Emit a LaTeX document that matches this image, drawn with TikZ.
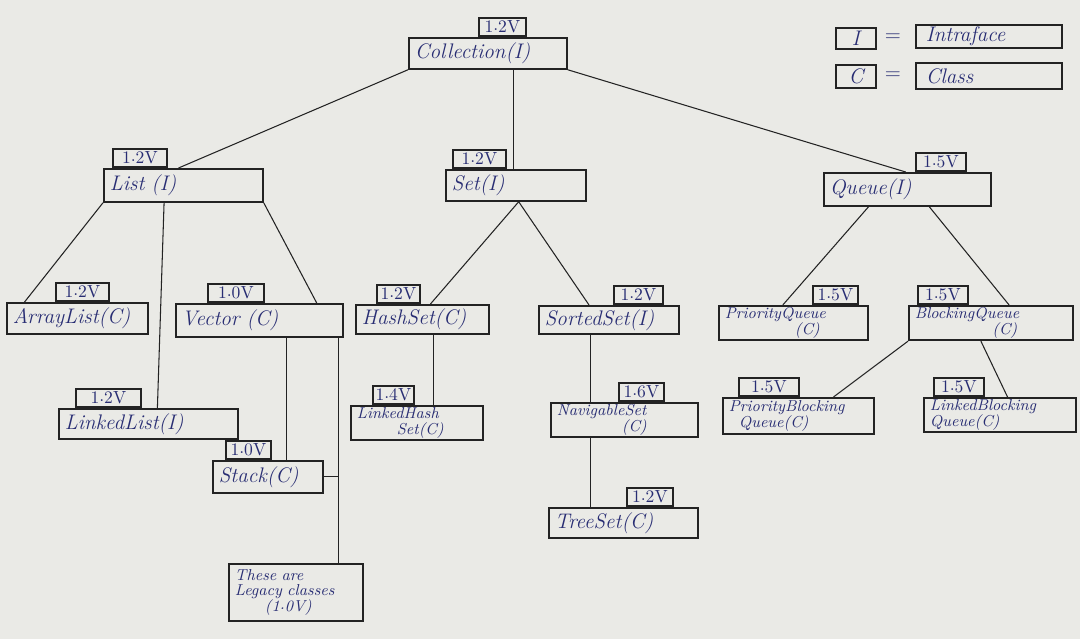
\documentclass[tikz,border=0pt]{standalone}
\usepackage{amssymb,amsmath}
\usepackage{tikz}
\usetikzlibrary{calc}
\definecolor{ink}{RGB}{40,45,115}
\definecolor{pen}{RGB}{35,35,35}
\definecolor{paper}{RGB}{234,234,230}
\newcommand{\ver}[2]{#1\raisebox{0.35ex}{.}#2V}

\begin{document}
\begin{tikzpicture}[x=0.02cm, y=-0.02cm,
	box/.style 2 args={draw=pen, line width=1pt, anchor=north west, inner xsep=0.12cm, inner ysep=1pt,
		text width=#1, minimum height=#2, align=left, text=ink, font=\large\itshape},
	tab/.style={draw=pen, line width=1pt, anchor=south west, inner sep=0pt, minimum height=0.36cm,
		text=ink, font=\normalsize},
	link/.style={draw=pen, line width=0.6pt}]
		\useasboundingbox (0,0) rectangle (1080,639);
		\fill[paper] (0,0) rectangle (1080,639);
		% legend
		\node[box={0.56cm}{0.42cm}, align=center] (keyi) at (835,27) {I};
		\node[text=ink, font=\large] (eqi) at (893,38) {=};
		\node[box={2.52cm}{0.46cm}, inner xsep=0.2cm] (keyitxt) at (915,24) {Intraface};
		\node[box={0.56cm}{0.46cm}, align=center] (keyc) at (835,64) {C};
		\node[text=ink, font=\large] (eqc) at (893,76) {=};
		\node[box={2.52cm}{0.52cm}, inner xsep=0.2cm] (keyctxt) at (915,62) {Class};
		% interfaces
		\node[box={2.92cm}{0.62cm}] (coll) at (408,37) {Collection(I)};
		\node[box={2.94cm}{0.66cm}] (list) at (103,168) {List (I)};
		\node[box={2.56cm}{0.62cm}] (set) at (445,169) {Set(I)};
		\node[box={3.10cm}{0.66cm}] (queue) at (823,172) {Queue(I)};
		% level 2
		\node[box={2.58cm}{0.62cm}] (al) at (6,302) {ArrayList(C)};
		\node[box={3.10cm}{0.66cm}] (vec) at (175,303) {Vector (C)};
		\node[box={2.42cm}{0.58cm}] (hs) at (355,304) {HashSet(C)};
		\node[box={2.56cm}{0.56cm}] (ss) at (538,305) {SortedSet(I)};
		\node[box={2.74cm}{0.60cm}, font=\small\itshape] (pq) at (718,305) {PriorityQueue\\[-2pt]\hspace*{1.4cm}(C)};
		\node[box={3.04cm}{0.56cm}, font=\small\itshape] (bq) at (908,305) {BlockingQueue\\[-2pt]\hspace*{1.55cm}(C)};
		% level 3
		\node[box={3.34cm}{0.60cm}] (ll) at (58,408) {LinkedList(I)};
		\node[box={2.40cm}{0.64cm}, font=\small\itshape] (lhs) at (350,405) {LinkedHash\\[-2pt]\hspace*{0.8cm}Set(C)};
		\node[box={2.70cm}{0.66cm}, font=\small\itshape] (ns) at (550,402) {NavigableSet\\[-2pt]\hspace*{1.3cm}(C)};
		\node[box={2.78cm}{0.72cm}, font=\small\itshape] (pbq) at (722,397) {PriorityBlocking\\[-2pt]\hspace*{0.2cm}Queue(C)};
		\node[box={2.80cm}{0.66cm}, font=\small\itshape] (lbq) at (923,397) {LinkedBlocking\\[-2pt]Queue(C)};
		\node[box={1.96cm}{0.64cm}] (stack) at (212,460) {Stack(C)};
		\node[box={2.74cm}{0.60cm}] (ts) at (548,507) {TreeSet(C)};
		\node[box={2.44cm}{1.14cm}, font=\small\itshape] (legacy) at (228,563) {These are\\[-2pt]Legacy classes\\[-2pt]\hspace*{0.6cm}(\ver{1}{0})};
		% version tabs
		\node[tab, minimum width=0.94cm] (collv) at ($(coll.north west)+(70,0)$) {\ver{1}{2}};
		\node[tab, minimum width=1.08cm] (listv) at ($(list.north west)+(9,0)$) {\ver{1}{2}};
		\node[tab, minimum width=1.06cm] (setv) at ($(set.north west)+(7,0)$) {\ver{1}{2}};
		\node[tab, minimum width=1.00cm] (queuev) at ($(queue.north west)+(92,0)$) {\ver{1}{5}};
		\node[tab, minimum width=1.06cm] (alv) at ($(al.north west)+(49,0)$) {\ver{1}{2}};
		\node[tab, minimum width=1.12cm] (vecv) at ($(vec.north west)+(32,0)$) {\ver{1}{0}};
		\node[tab, minimum width=0.86cm] (hsv) at ($(hs.north west)+(21,0)$) {\ver{1}{2}};
		\node[tab, minimum width=0.98cm] (ssv) at ($(ss.north west)+(75,0)$) {\ver{1}{2}};
		\node[tab, minimum width=0.90cm] (pqv) at ($(pq.north west)+(94,0)$) {\ver{1}{5}};
		\node[tab, minimum width=1.00cm] (bqv) at ($(bq.north west)+(9,0)$) {\ver{1}{5}};
		\node[tab, minimum width=1.30cm] (llv) at ($(ll.north west)+(17,0)$) {\ver{1}{2}};
		\node[tab, minimum width=0.82cm] (lhsv) at ($(lhs.north west)+(22,0)$) {\ver{1}{4}};
		\node[tab, minimum width=0.90cm] (nsv) at ($(ns.north west)+(68,0)$) {\ver{1}{6}};
		\node[tab, minimum width=1.20cm] (pbqv) at ($(pbq.north west)+(16,0)$) {\ver{1}{5}};
		\node[tab, minimum width=1.00cm] (lbqv) at ($(lbq.north west)+(10,0)$) {\ver{1}{5}};
		\node[tab, minimum width=0.90cm] (stackv) at ($(stack.north west)+(13,0)$) {\ver{1}{0}};
		\node[tab, minimum width=0.92cm] (tsv) at ($(ts.north west)+(78,0)$) {\ver{1}{2}};
		% links from Collection
		\draw[link] (coll.south west) -- ($(list.north west)!0.47!(list.north east)$);
		\coordinate (c1) at ($(coll.south west)!0.66!(coll.south east)$);
		\draw[link] (c1) -- (c1 |- set.north);
		\draw[link] (coll.south east) -- ($(queue.north west)!0.49!(queue.north east)$);
		% links from List
		\draw[link] (list.south west) -- ($(al.north west)!0.13!(al.north east)$);
		\draw[link] ($(list.south west)!0.38!(list.south east)$) -- ($(ll.north west)!0.55!(ll.north east)$);
		\draw[link] (list.south east) -- ($(vec.north west)!0.84!(vec.north east)$);
		% links from Set
		\coordinate (s1) at ($(set.south west)!0.52!(set.south east)$);
		\draw[link] (s1) -- ($(hs.north west)!0.56!(hs.north east)$);
		\draw[link] (s1) -- ($(ss.north west)!0.36!(ss.north east)$);
		\coordinate (h1) at ($(hs.south west)!0.58!(hs.south east)$);
		\draw[link] (h1) -- (h1 |- lhs.north);
		\coordinate (n1) at ($(ss.south west)!0.37!(ss.south east)$);
		\draw[link] (n1) -- (n1 |- ns.north);
		\draw[link] (n1 |- ns.south) -- (n1 |- ts.north);
		% links from Queue
		\draw[link] ($(queue.south west)!0.27!(queue.south east)$) -- ($(pq.north west)!0.43!(pq.north east)$);
		\draw[link] ($(queue.south west)!0.63!(queue.south east)$) -- ($(bq.north west)!0.61!(bq.north east)$);
		\draw[link] (bq.south west) -- ($(pbq.north west)!0.73!(pbq.north east)$);
		\draw[link] ($(bq.south west)!0.44!(bq.south east)$) -- ($(lbq.north west)!0.55!(lbq.north east)$);
		% legacy classes
		\coordinate (v1) at ($(vec.south west)!0.66!(vec.south east)$);
		\draw[link] (v1) -- (v1 |- stack.north);
		\coordinate (v2) at ($(vec.south west)!0.97!(vec.south east)$);
		\draw[link] (v2) -- (v2 |- legacy.north);
		\draw[link] (stack.east) -- (v2 |- stack.east);
	\end{tikzpicture}
\end{document}
